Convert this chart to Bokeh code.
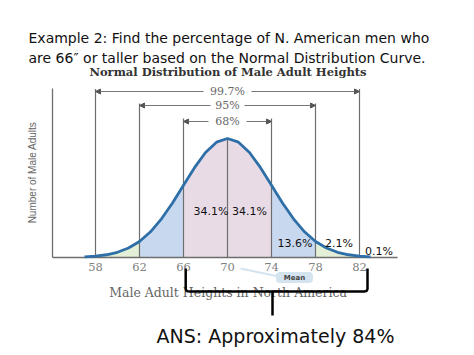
from bokeh.plotting import figure
from bokeh.models import Range1d, Arrow, NormalHead
from bokeh.core.properties import value
from bokeh.embed import file_html
from bokeh.resources import INLINE

# ---------------- data ----------------
MEAN = 70
SD = 4
heights = list(range(57, 84))
curve = [0.005, 0.011, 0.023, 0.044, 0.080, 0.135, 0.216, 0.325, 0.458,
         0.607, 0.755, 0.882, 0.969, 1.000, 0.969, 0.882, 0.755, 0.607,
         0.458, 0.325, 0.216, 0.135, 0.080, 0.044, 0.023, 0.011, 0.005]
tick_values = [58, 62, 66, 70, 74, 78, 82]
tick_labels = ["58", "62", "66", "70", "74", "78", "82"]
band_labels = ["99.7%", "95%", "68%"]
band_k = [3, 2, 1]
area_labels = ["34.1%", "34.1%", "13.6%", "2.1%", "0.1%"]
THRESHOLD = 66
title_lines = ["Example 2: Find the percentage of N. American men who",
               "are 66\u2033 or taller based on the Normal Distribution Curve."]
subtitle = "Normal Distribution of Male Adult Heights"
xlabel = "Male Adult Heights in North America"
ylabel = "Number of Male Adults"
answer = "ANS: Approximately 84%"

# ---------------- layout ----------------
W, H = 474, 355
PX_X = 11.0      # pixels per inch
PX_Y = 119.0     # pixels per curve unit
X0_PX, Y0_PX = 227.0, 257.0   # pixel position of (MEAN, 0)

def dx(px):
    return MEAN + (px - X0_PX) / PX_X

def dy(py):
    return (Y0_PX - py) / PX_Y

p = figure(width=W, height=H, output_backend="svg", toolbar_location=None,
           x_range=Range1d(dx(0), dx(W)), y_range=Range1d(dy(H), dy(0)),
           min_border=0, outline_line_color=None)
p.axis.visible = False
p.grid.visible = False
p.background_fill_color = "white"
p.border_fill_color = "white"

def seg(lo, hi):
    xs = [h for h in heights if lo <= h <= hi]
    ys = [curve[heights.index(h)] for h in xs]
    return xs, ys

# shaded regions
fills = [((MEAN - 3 * SD, MEAN - 2 * SD), "#e3efd6"),
         ((MEAN + 2 * SD, MEAN + 3 * SD), "#e3efd6"),
         ((MEAN - 2 * SD, MEAN - SD), "#c8d9ef"),
         ((MEAN + SD, MEAN + 2 * SD), "#c8d9ef"),
         ((MEAN - SD, MEAN + SD), "#e8dbe6")]
for (lo, hi), col in fills:
    xs, ys = seg(lo, hi)
    p.varea(x=xs, y1=[0] * len(xs), y2=ys, fill_color=col)

gray = "#6e6e6e"
# axis lines
p.line([dx(52), dx(52)], [dy(88), 0], line_color=gray, line_width=1.3)
p.line([dx(52), dx(397)], [0, 0], line_color=gray, line_width=1.3)

# vertical lines
tops = {3: dy(88.5), 2: dy(103), 1: dy(118)}
for k in band_k:
    for s in (-1, 1):
        xv = MEAN + s * k * SD
        p.line([xv, xv], [0, tops[k]], line_color=gray, line_width=1.2)
p.line([MEAN, MEAN], [0, curve[heights.index(MEAN)]], line_color=gray, line_width=1.2)

# curve
p.line(heights, curve, line_color="#2e6fa7", line_width=2.8)

# band arrows and labels
row_y = {3: dy(91), 2: dy(105), 1: dy(121)}
half_w = {3: 24, 2: 17, 1: 19}
for lab, k in zip(band_labels, band_k):
    yy = row_y[k]
    for s in (-1, 1):
        xs0 = MEAN + s * half_w[k] / PX_X
        xe = MEAN + s * k * SD
        p.add_layout(Arrow(end=NormalHead(size=5, fill_color="#555555", line_color="#555555"),
                           x_start=xs0, y_start=yy, x_end=xe, y_end=yy,
                           line_color="#777777", line_width=1))
    p.text(x=[MEAN], y=[yy], text=[lab], text_font=value("DejaVu Serif"),
           text_font_size="11px", text_color="#666666", text_align="center",
           text_baseline="middle")

# area percentages
area_pos = [(dx(210.5), dy(211)), (dx(249), dy(211)), (dx(294.5), dy(243)),
            (dx(338.5), dy(243)), (dx(378.5), dy(251))]
p.text(x=[a[0] for a in area_pos], y=[a[1] for a in area_pos], text=area_labels,
       text_font=value("DejaVu Sans"), text_font_size="11px", text_color="#111111",
       text_align="center", text_baseline="middle")

# tick labels
p.text(x=tick_values, y=[dy(266)] * len(tick_values), text=tick_labels,
       text_font=value("DejaVu Serif"), text_font_size="11.5px", text_color="#808080",
       text_align="center", text_baseline="middle")

# Mean callout
p.line([dx(240), dx(278)], [dy(268), dy(276)], line_color="#d3e3f0", line_width=2)
p.rect(x=[dx(294)], y=[dy(277)], width=37 / PX_X, height=11 / PX_Y,
       fill_color="#d3e3f0", line_color=None, border_radius=4)
p.text(x=[dx(294)], y=[dy(277)], text=["Mean"], text_font=value("DejaVu Sans"),
       text_font_style="bold", text_font_size="7px", text_color="#444444",
       text_align="center", text_baseline="middle")

# axis labels
p.text(x=[dx(227.5)], y=[dy(292)], text=[xlabel], text_font=value("DejaVu Serif"),
       text_font_size="12.5px", text_color="#666666", text_align="center",
       text_baseline="middle")
p.text(x=[dx(32)], y=[dy(172)], text=[ylabel], text_font=value("Liberation Sans"),
       text_font_size="10px", text_color="#666666", text_align="center",
       text_baseline="middle", angle=1.5708)

# titles
p.text(x=[dx(28)] * 2, y=[dy(37.5), dy(57.5)], text=title_lines,
       text_font=value("DejaVu Sans"), text_font_size="14px", text_color="#111111",
       text_align="left", text_baseline="alphabetic")
p.text(x=[dx(227.5)], y=[dy(71)], text=[subtitle], text_font=value("DejaVu Serif"),
       text_font_style="bold", text_font_size="11.5px", text_color="#333333",
       text_align="center", text_baseline="middle")

# bracket
bl, br = THRESHOLD + 0.2, dx(367)
stem = dx(272)
ytop, ybar, ybot = dy(268), dy(291), dy(315)
r = 2.5
p.line([bl, bl, bl + 0.08, bl + r / PX_X], [ytop, ybar + r / PX_Y, ybar + 0.6 / PX_Y, ybar],
       line_color="black", line_width=2.5)
p.line([bl + r / PX_X, br - r / PX_X], [ybar, ybar], line_color="black", line_width=2.5)
p.line([br - r / PX_X, br - 0.08, br, br], [ybar, ybar + 0.6 / PX_Y, ybar + r / PX_Y, ytop],
       line_color="black", line_width=2.5)
p.line([stem, stem], [ybar, ybot], line_color="black", line_width=2.5)

# answer
p.text(x=[dx(275)], y=[dy(335)], text=[answer], text_font=value("DejaVu Sans"),
       text_font_size="19px", text_color="#111111", text_align="center",
       text_baseline="alphabetic")

open("out.html", "w").write(file_html(p, INLINE))
